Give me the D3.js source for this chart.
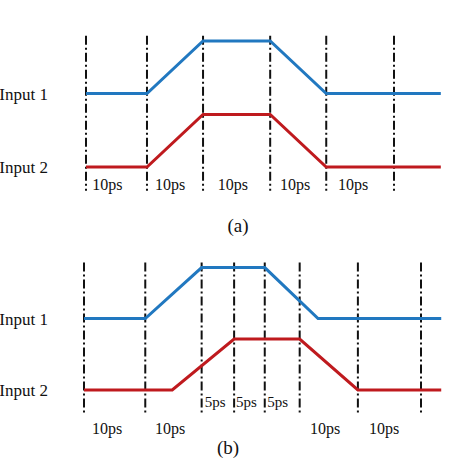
<!DOCTYPE html>
<html><head><meta charset="utf-8">
<script src="https://cdn.jsdelivr.net/npm/d3@7"></script>
<style>body{margin:0;background:#fff}</style>
</head><body>
<script>
// ---- data (time in ps, level 0 = low, 1 = high; Input 1 row offset) ----
const signals = ["Input 1", "Input 2"];
const rowOffset = [1.4, 0];

// Panel (a)
const aMarkers = [0, 9.9, 19.0, 29.9, 39.0, 50];
const aInput1 = [[0,0],[9.9,0],[19.0,1],[29.9,1],[39.0,0],[57.6,0]];
const aInput2 = [[0,0],[9.9,0],[19.0,1],[29.9,1],[39.0,0],[57.6,0]];
const aLabels = ["10ps","10ps","10ps","10ps","10ps"];
const aLabelT = [1.0, 11.2, 21.4, 31.5, 40.9];

// Panel (b)
const bMarkers = [0, 10, 19.2, 24.5, 29.5, 35.2, 44.7, 55];
const bInput1 = [[0,0],[10,0],[19.2,1],[29.5,1],[38.2,0],[58.3,0]];
const bInput2 = [[0,0],[14.4,0],[24.5,1],[35.2,1],[44.7,0],[58.3,0]];
const bSmallLabels = ["5ps","5ps","5ps"];
const bSmallLabelT = [19.7, 24.8, 29.9];
const bLabels = ["10ps","10ps","10ps","10ps"];
const bLabelT = [1.3, 11.6, 36.9, 46.5];

const captions = ["(a)", "(b)"];

const W = 474, H = 474;
const svg = d3.select("body").append("svg").attr("width", W).attr("height", H);

const BLUE = "#2178c0", RED = "#bf1a1e";
const FONT = "'Liberation Serif','Times New Roman',serif";

function panel(cfg) {
  const x = d3.scaleLinear().domain([0, cfg.tMax]).range(cfg.xRange);
  const y = d3.scaleLinear().domain([0, 1]).range(cfg.yRange);
  const g = svg.append("g");

  // vertical dash-dot markers
  g.selectAll("line.m").data(cfg.markers).join("line")
    .attr("x1", d => x(d)).attr("x2", d => x(d))
    .attr("y1", y(cfg.markTop)).attr("y2", y(cfg.markBot))
    .attr("stroke", "#111").attr("stroke-width", 2)
    .attr("stroke-dasharray", "9,3,2,3");

  const line = d3.line().x(d => x(d[0])).y(d => y(d[1]));
  [cfg.in1, cfg.in2].forEach((s, i) => {
    g.append("path")
      .attr("d", line(s.map(p => [p[0], p[1] + rowOffset[i]])))
      .attr("fill", "none")
      .attr("stroke", i === 0 ? BLUE : RED)
      .attr("stroke-width", 3)
      .attr("stroke-linejoin", "miter");
    g.append("text")
      .attr("x", 48).attr("y", y(rowOffset[i]) + 6)
      .attr("text-anchor", "end")
      .attr("font-family", FONT).attr("font-size", 17)
      .attr("fill", "#111")
      .text(signals[i]);
  });

  cfg.labelGroups.forEach(lg => {
    g.selectAll(null).data(lg.texts).join("text")
      .attr("x", (d, i) => x(lg.t[i]))
      .attr("y", lg.yPx)
      .attr("font-family", FONT).attr("font-size", lg.size)
      .attr("fill", "#111")
      .text(d => d);
  });

  g.append("text")
    .attr("x", cfg.capX).attr("y", cfg.capY)
    .attr("text-anchor", "middle")
    .attr("font-family", FONT).attr("font-size", 19)
    .attr("fill", "#111")
    .text(cfg.caption);
}

panel({
  tMax: 50, xRange: [86, 394], yRange: [167, 114.5],
  markers: aMarkers, markTop: 2.5, markBot: -0.45,
  in1: aInput1, in2: aInput2,
  labelGroups: [{texts: aLabels, t: aLabelT, yPx: 190, size: 16}],
  caption: captions[0], capX: 238, capY: 232
});

panel({
  tMax: 55, xRange: [84, 421], yRange: [390, 339],
  markers: bMarkers, markTop: 2.5, markBot: -0.45,
  in1: bInput1, in2: bInput2,
  labelGroups: [
    {texts: bSmallLabels, t: bSmallLabelT, yPx: 407, size: 15},
    {texts: bLabels, t: bLabelT, yPx: 434, size: 16}
  ],
  caption: captions[1], capX: 228, capY: 454
});
</script>
</body></html>
